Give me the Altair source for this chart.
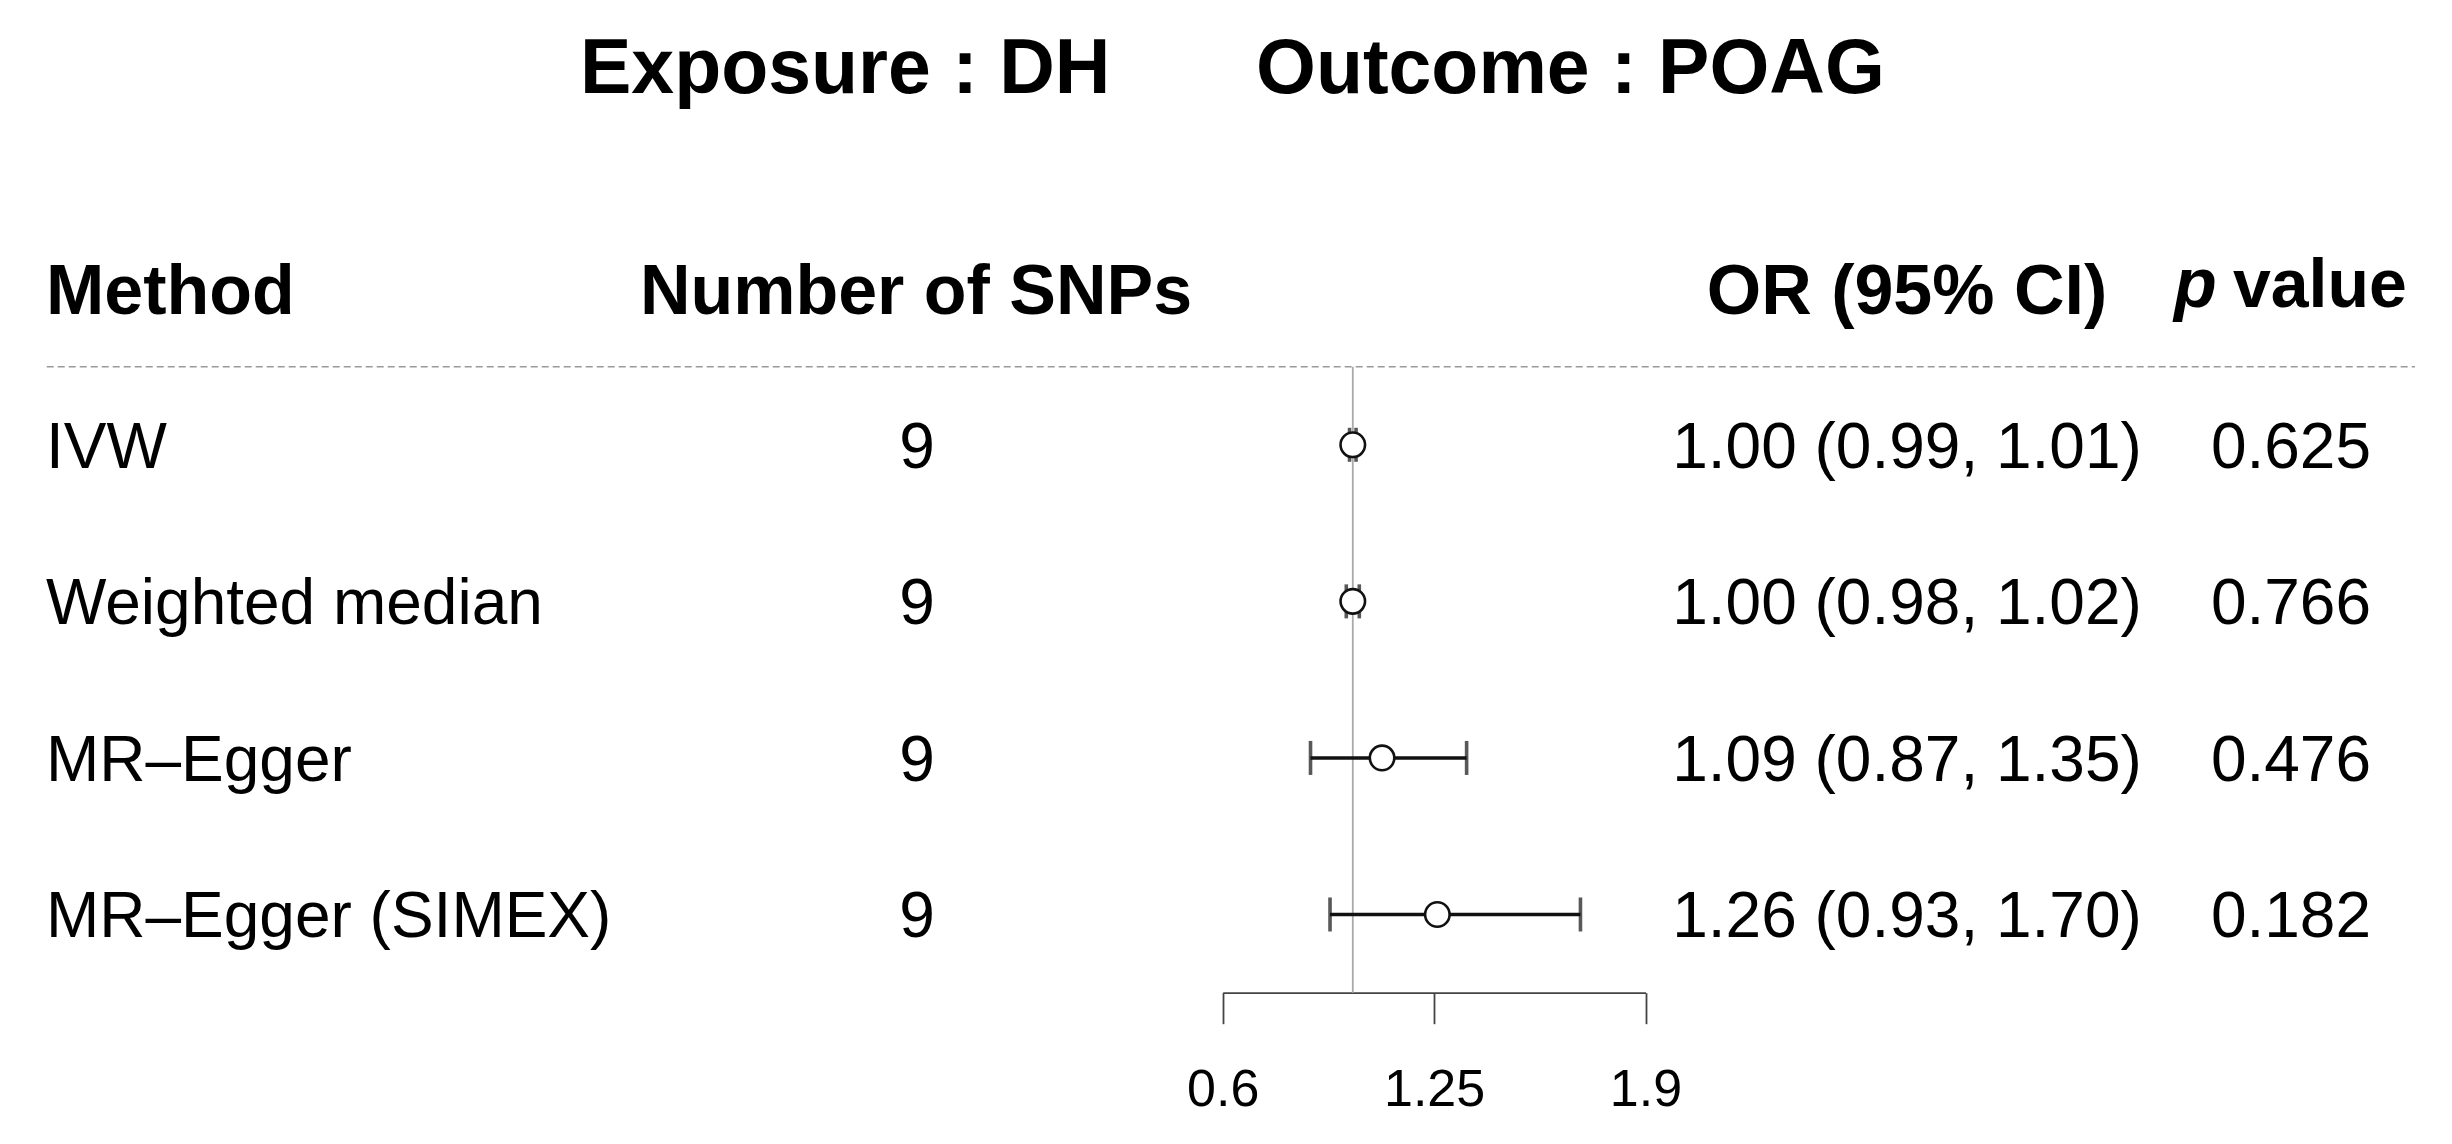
import altair as alt
import pandas as pd

# ---- data ----
methods = ["IVW", "Weighted median", "MR\u2013Egger", "MR\u2013Egger (SIMEX)"]
n_snps = [9, 9, 9, 9]
or_est = [1.00, 1.00, 1.09, 1.26]
ci_low = [0.99, 0.98, 0.87, 0.93]
ci_high = [1.01, 1.02, 1.35, 1.70]
p_values = ["0.625", "0.766", "0.476", "0.182"]
x_ticks = [0.6, 1.25, 1.9]
title_parts = ["Exposure : DH", "Outcome : POAG"]
headers = ["Method", "Number of SNPs", "OR (95% CI)", "p", "value"]

df = pd.DataFrame({
    "method": methods,
    "nsnp": n_snps,
    "or": or_est,
    "lo": ci_low,
    "hi": ci_high,
    "p": p_values,
})
df["or_text"] = [f"{o:.2f} ({l:.2f}, {h:.2f})" for o, l, h in zip(or_est, ci_low, ci_high)]

one = pd.DataFrame({"k": [0]})

FONT = "Liberation Sans"
M = 8  # page margin


def P(v):
    return v - M


x_scale = alt.Scale(domain=[0.6, 1.9], range=[P(1222.7), P(1645.5)], nice=False, zero=False)
y_scale = alt.Scale(type="point", domain=methods, range=[P(444.8), P(914.5)], padding=0)

x_axis = alt.Axis(
    values=x_ticks, format=".3~g", title=None, grid=False,
    tickSize=31, tickWidth=1.8, tickColor="#444444",
    domainColor="#444444", domainWidth=1.8,
    labelFont=FONT, labelFontSize=52, labelColor="black",
    labelPadding=82, labelBaseline="alphabetic", labelAngle=0,
    labelFlush=False, labelOverlap=False,
)


def X(field):
    return alt.X(field, type="quantitative", scale=x_scale, axis=x_axis)


Y = alt.Y("method:N", scale=y_scale, axis=None)

base = alt.Chart(df)

# reference line at OR = 1
ref = alt.Chart(one).mark_rule(color="#aaaaaa", strokeWidth=1.8).encode(
    x=alt.X(datum=1.0, type="quantitative", scale=x_scale, axis=x_axis),
    y=alt.value(P(366.7)),
    y2=alt.value(P(992.7)),
)

# dashed separator under header
sep = alt.Chart(one).mark_rule(color="#9a9a9a", strokeWidth=1.6, strokeDash=[7, 4]).encode(
    x=alt.value(P(46.7)), x2=alt.value(P(2415)), y=alt.value(P(366.7))
)

LINE = "#111111"
ci = base.mark_rule(color=LINE, strokeWidth=3.6).encode(x=X("lo"), x2="hi", y=Y)
cap_lo = base.mark_tick(orient="vertical", size=34, thickness=3.6, color=LINE).encode(x=X("lo"), y=Y)
cap_hi = base.mark_tick(orient="vertical", size=34, thickness=3.6, color=LINE).encode(x=X("hi"), y=Y)
pts = base.mark_point(shape="circle", fill="white", fillOpacity=1, stroke=LINE,
                      strokeWidth=2.6, size=600, opacity=1).encode(x=X("or"), y=Y)

txt_kw = dict(font=FONT, fontSize=64, color="black", baseline="alphabetic", dy=23)
col_method = base.mark_text(align="left", **txt_kw).encode(x=alt.value(P(46)), y=Y, text="method:N")
col_n = base.mark_text(align="center", **txt_kw).encode(x=alt.value(P(917)), y=Y, text="nsnp:N")
col_or = base.mark_text(align="center", **txt_kw).encode(x=alt.value(P(1907)), y=Y, text="or_text:N")
col_p = base.mark_text(align="center", **txt_kw).encode(x=alt.value(P(2291)), y=Y, text="p:N")

hdr_kw = dict(font=FONT, fontSize=70, fontWeight="bold", color="black", baseline="alphabetic")
h1 = alt.Chart(one).mark_text(align="left", text=headers[0], **hdr_kw).encode(
    x=alt.value(P(46)), y=alt.value(P(314)))
h2 = alt.Chart(one).mark_text(align="center", text=headers[1], **hdr_kw).encode(
    x=alt.value(P(916)), y=alt.value(P(314)))
h3 = alt.Chart(one).mark_text(align="center", text=headers[2], **hdr_kw).encode(
    x=alt.value(P(1907)), y=alt.value(P(314)))
h4 = alt.Chart(one).mark_text(align="left", text=headers[3], fontStyle="italic", **hdr_kw).encode(
    x=alt.value(P(2174)), y=alt.value(P(307)))
h5 = alt.Chart(one).mark_text(align="left", text=headers[4], **{**hdr_kw, "fontSize": 68}).encode(
    x=alt.value(P(2233)), y=alt.value(P(307)))

ttl_kw = dict(font=FONT, fontSize=77, fontWeight="bold", color="black", baseline="alphabetic")
t1 = alt.Chart(one).mark_text(align="left", text=title_parts[0], **ttl_kw).encode(
    x=alt.value(P(580)), y=alt.value(P(93)))
t2 = alt.Chart(one).mark_text(align="left", text=title_parts[1], **ttl_kw).encode(
    x=alt.value(P(1256)), y=alt.value(P(93)))

chart = alt.layer(
    ref, sep, ci, cap_lo, cap_hi, pts,
    col_method, col_n, col_or, col_p,
    h1, h2, h3, h4, h5, t1, t2,
).properties(
    width=2420,
    height=P(992.7),
    autosize=alt.AutoSizeParams(type="none"),
    padding={"left": 0, "top": 0, "right": 0, "bottom": 130},
    background="white",
).configure_view(stroke=None)

chart.save("out.html", embed_options={"renderer": "svg", "actions": False})
